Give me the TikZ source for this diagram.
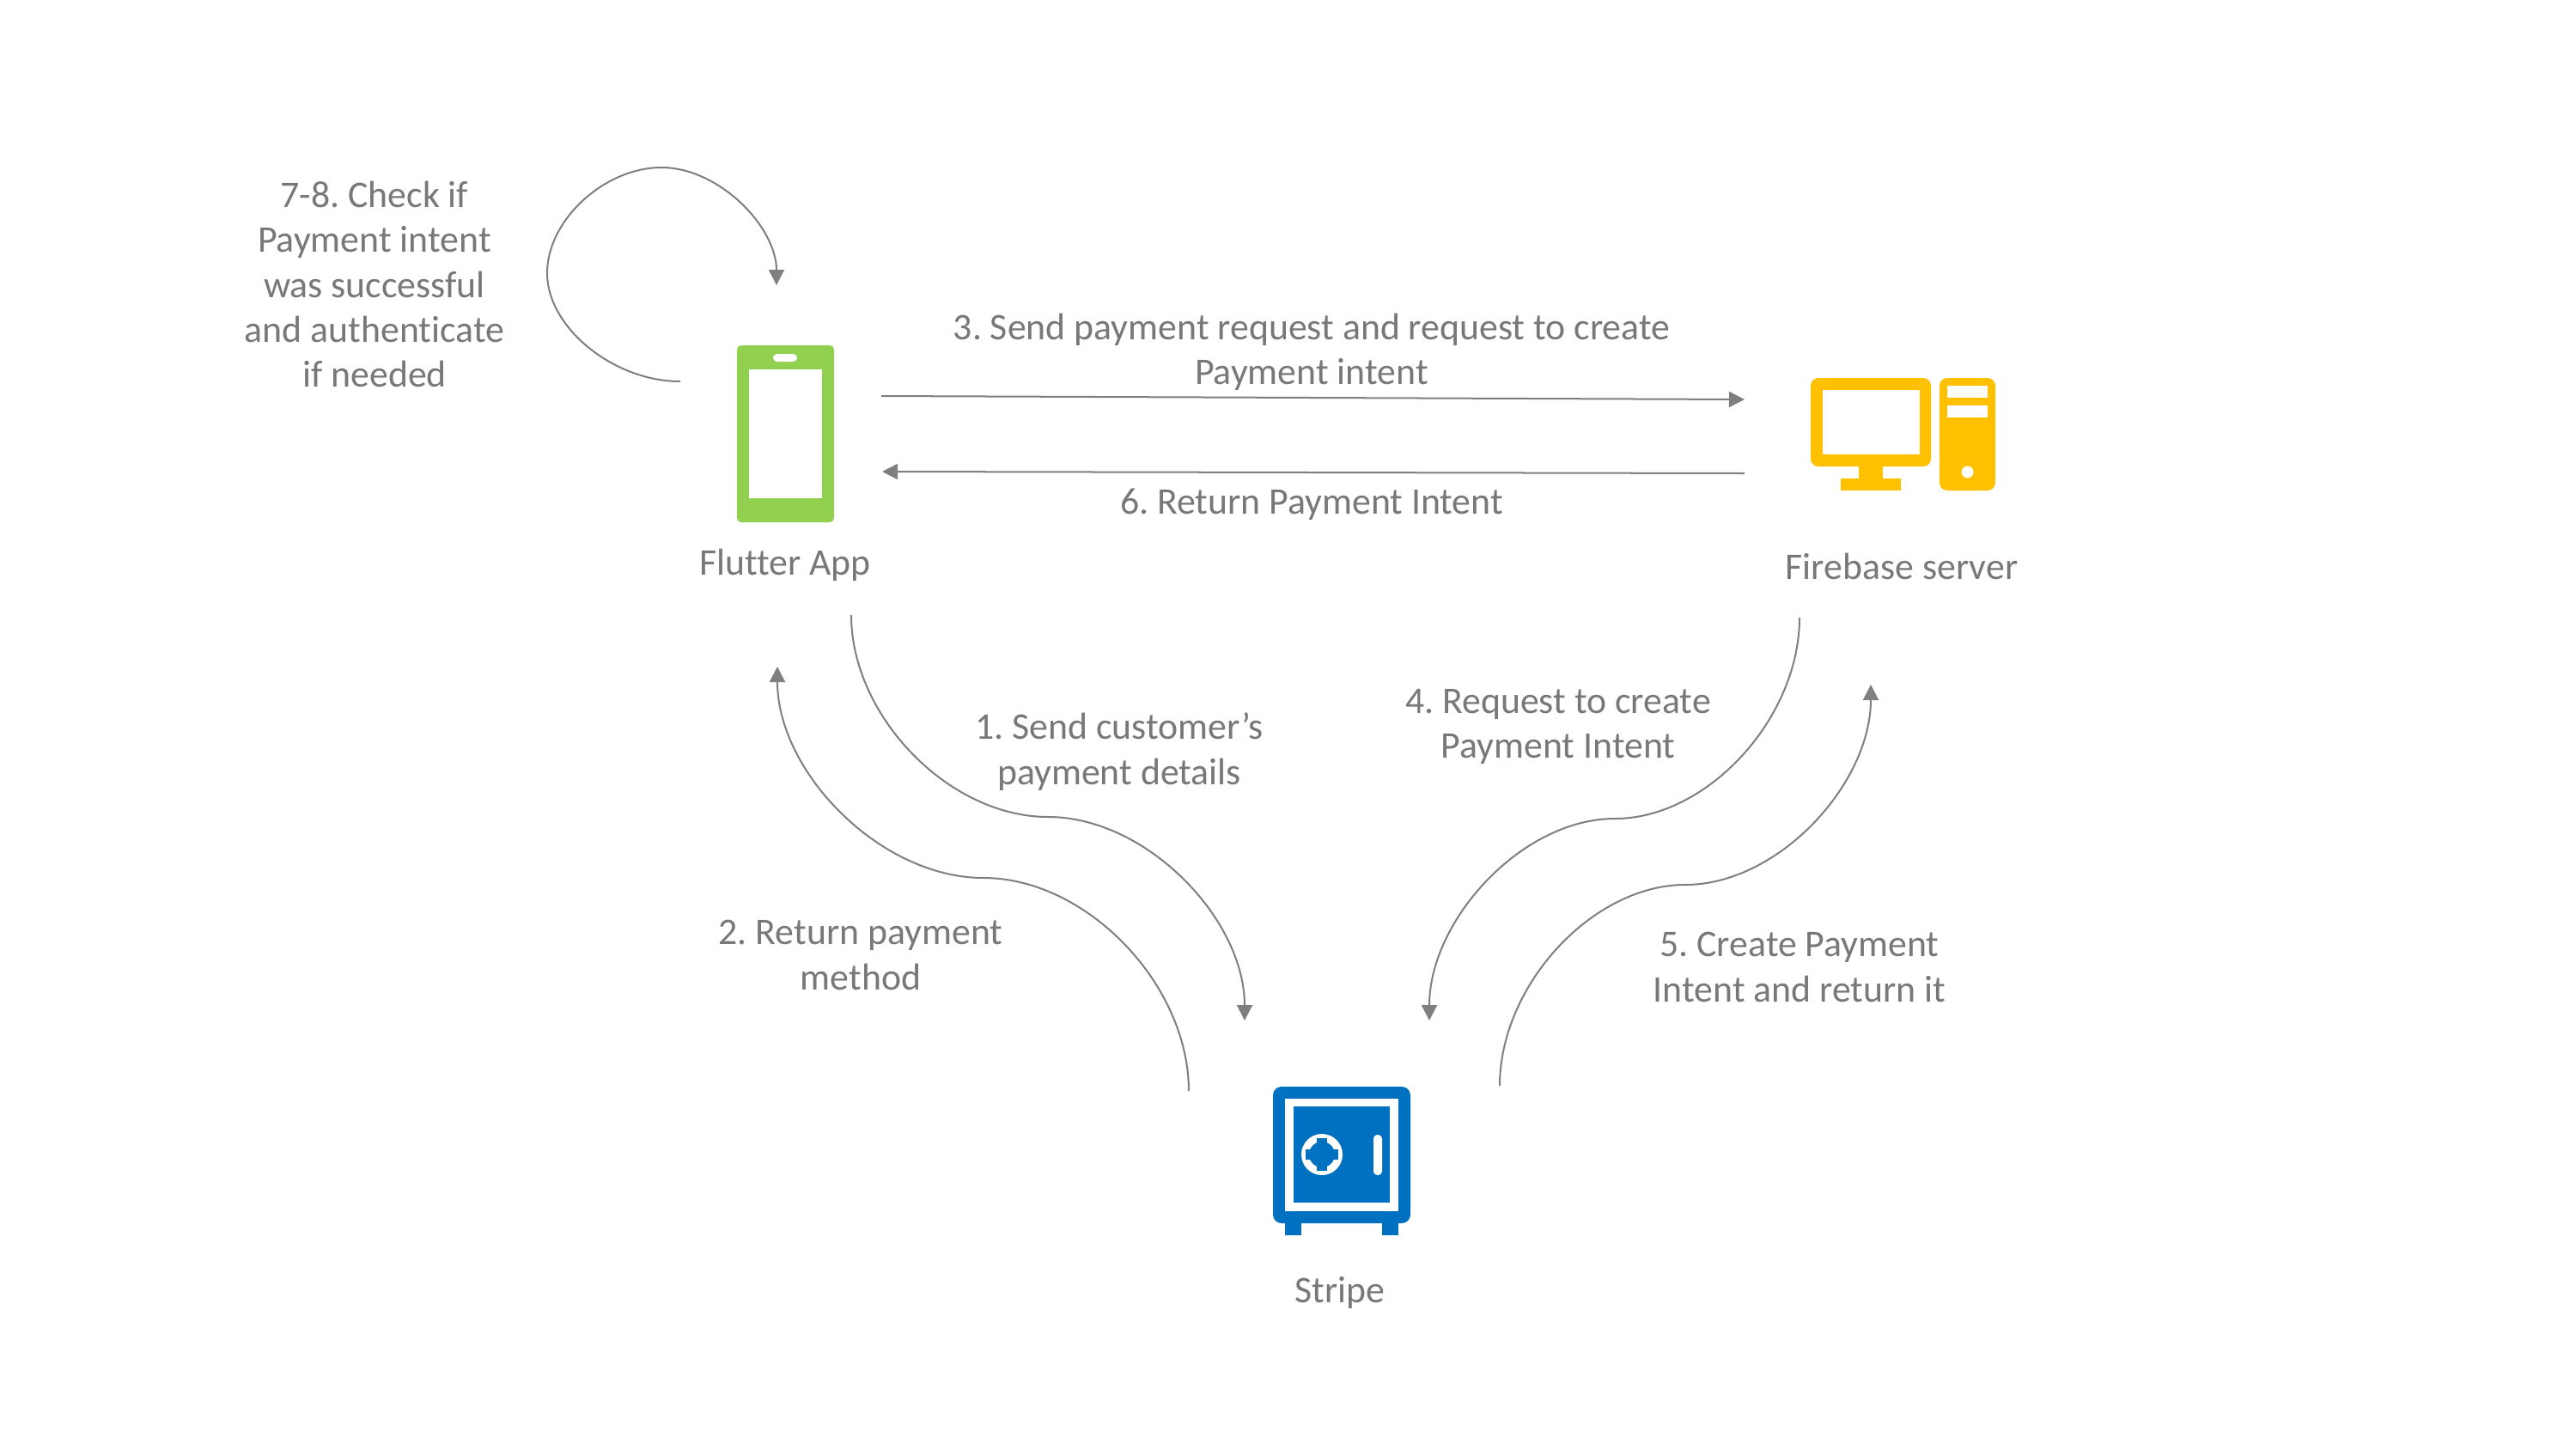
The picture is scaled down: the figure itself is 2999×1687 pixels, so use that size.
\documentclass[tikz,border=0pt]{standalone}
\usepackage{fontspec}
\setmainfont[Ligatures=NoCommon]{Carlito}
\usetikzlibrary{arrows.meta}
\definecolor{txtgray}{HTML}{787878}
\definecolor{linegray}{HTML}{7F7F7F}
\definecolor{phonegreen}{HTML}{92D050}
\definecolor{pcyellow}{HTML}{FFC000}
\definecolor{safeblue}{HTML}{0070C0}
\tikzset{
  lbl/.style={text=txtgray,align=center,inner sep=0pt,font=\fontsize{12.45}{14.85}\selectfont\frenchspacing},
  conn/.style={draw=linegray,line width=0.57pt,-{Triangle[length=0.18cm,width=0.18cm]}},
}
\begin{document}
\begin{tikzpicture}[x=0.01cm,y=-0.01cm]
\useasboundingbox (0,0) rectangle (2999,1687);
\fill[white] (0,0) rectangle (2999,1687);

% phone
\fill[phonegreen,rounded corners=0.05cm] (858,402) rectangle (971,608);
\fill[white] (872,430) rectangle (957,580);
\fill[white,rounded corners=0.045cm] (900,412) rectangle (928,421);

% computer
\fill[pcyellow,rounded corners=0.09cm] (2108,440) rectangle (2248,543);
\fill[white] (2122,454) rectangle (2235,529);
\fill[pcyellow] (2164,540) rectangle (2192,557);
\fill[pcyellow] (2143,557) rectangle (2213,571);
\fill[pcyellow,rounded corners=0.09cm] (2258,440) rectangle (2323,571);
\fill[white] (2267,449) rectangle (2314,463);
\fill[white] (2267,472) rectangle (2314,486);
\fill[white] (2290.5,549.5) circle[radius=7];

% safe
\fill[safeblue] (1496,1420) rectangle (1515,1438);
\fill[safeblue] (1609,1420) rectangle (1628,1438);
\fill[safeblue,rounded corners=0.1cm] (1482,1265) rectangle (1642,1424);
\fill[white] (1496,1279) rectangle (1628,1410);
\fill[safeblue] (1506,1288) rectangle (1618,1400);
\fill[white] (1539,1344) circle[radius=24];
\fill[safeblue] (1539,1344) circle[radius=15];
\fill[safeblue] (1520,1338) rectangle (1558,1350);
\fill[safeblue] (1533,1325) rectangle (1545,1363);
\fill[white,rounded corners=0.045cm] (1599,1321) rectangle (1609,1368);

% labels
\node[lbl] (tLoop) at (436,331) {7-8. Check if\\Payment intent\\was successful\\and authenticate\\if needed};
\node[lbl] (t3) at (1527,410) {3. Send payment request and request to create\\Payment intent};
\node[lbl] (t6) at (1527,587) {6. Return Payment Intent};
\node[lbl] (tApp) at (914,658) {Flutter App};
\node[lbl] (tServer) at (2214,659) {Firebase server};
\node[lbl] (t1) at (1303,875) {1. Send customer’s\\payment details};
\node[lbl] (t4) at (1814,846) {4. Request to create\\Payment Intent};
\node[lbl] (t2) at (1002,1112) {2. Return payment\\method};
\node[lbl] (t5) at (2095,1126) {5. Create Payment\\Intent and return it};
\node[lbl] (tStripe) at (1560,1505) {Stripe};

% connector ends
\coordinate (a3s) at (1026,461);
\coordinate (a3e) at (2031,465);
\coordinate (a6s) at (2031,551);
\coordinate (a6e) at (1027,549);
\coordinate (c1s) at (991,716);
\coordinate (c1m) at (1220,951);
\coordinate (c1e) at (1449,1188);
\coordinate (c2s) at (1384,1270);
\coordinate (c2m) at (1145,1022);
\coordinate (c2e) at (905,776);
\coordinate (c4s) at (2095,719);
\coordinate (c4m) at (1880,953);
\coordinate (c4e) at (1664,1188);
\coordinate (c5s) at (1746,1264);
\coordinate (c5m) at (1962,1030);
\coordinate (c5e) at (2178,797);
\coordinate (lS) at (792,444);
\coordinate (lL) at (637,318);
\coordinate (lT) at (770,195);
\coordinate (lE) at (904,332);

% connectors
\draw[conn] (a3s) -- (a3e);
\draw[conn] (a6s) -- (a6e);
\draw[conn] (c1s) .. controls +(0,118) and +(-115,0) .. (c1m) .. controls +(115,0) and +(0,-118) .. (c1e);
\draw[conn] (c2s) .. controls +(0,-124) and +(120,0) .. (c2m) .. controls +(-120,0) and +(0,123) .. (c2e);
\draw[conn] (c4s) .. controls +(0,117) and +(108,0) .. (c4m) .. controls +(-108,0) and +(0,-117) .. (c4e);
\draw[conn] (c5s) .. controls +(0,-117) and +(-108,0) .. (c5m) .. controls +(108,0) and +(0,116) .. (c5e);
\draw[conn] (lS) .. controls +(-78,0) and +(0,63) .. (lL) .. controls +(0,-62) and +(-66,0) .. (lT) .. controls +(67,0) and +(0,-68) .. (lE);
\end{tikzpicture}
\end{document}
